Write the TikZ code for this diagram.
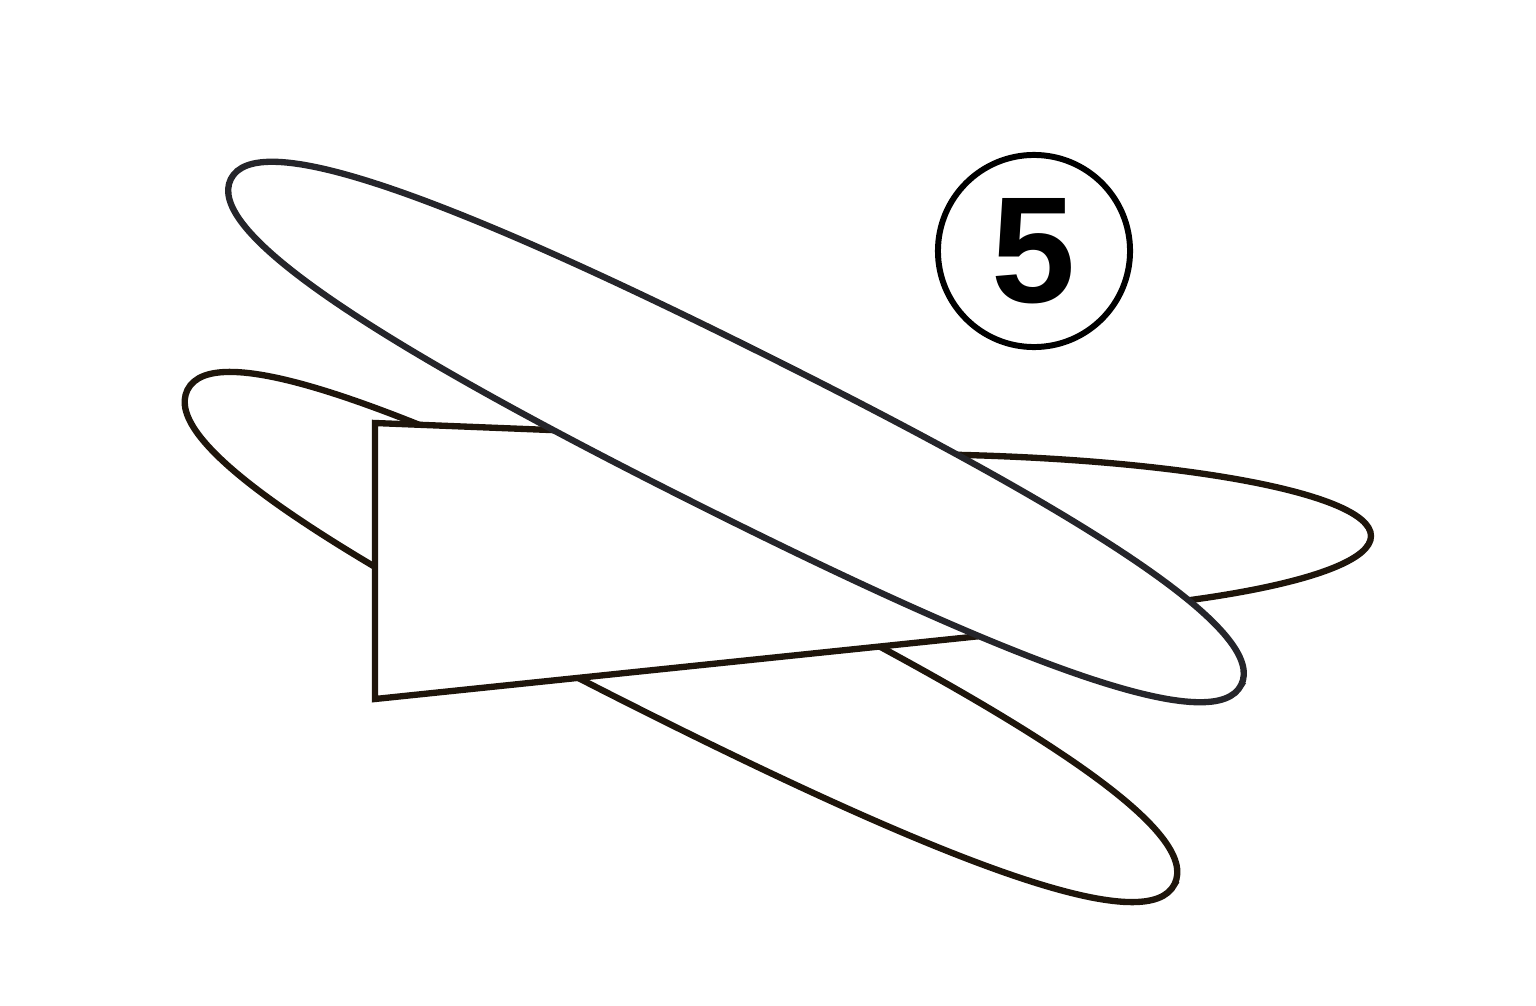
\documentclass[tikz,border=0pt]{standalone}
\usepackage{fontspec}
\setmainfont{Liberation Sans}
\definecolor{backline}{HTML}{1E150B}
\definecolor{topline}{HTML}{25252A}
\tikzset{
  % #1 half length, #2 half width, #3 roundness of the ends
  pics/lobe/.style n args={3}{code={
    \draw[fill=white] (#1,0) .. controls (#1,{#3*#2}) and ({#3*#1},#2) .. (0,#2)
      .. controls ({-#3*#1},#2) and (-#1,{#3*#2}) .. (-#1,0)
      .. controls (-#1,{-#3*#2}) and ({-#3*#1},-#2) .. (0,-#2)
      .. controls ({#3*#1},-#2) and (#1,{-#3*#2}) .. cycle;
  }}
}
\begin{document}
\begin{tikzpicture}[x=0.01cm,y=-0.01cm,line width=1.8pt]
  \useasboundingbox (0,0) rectangle (1536,1006);
  % wings at the back
  \pic[backline, shift={(890,536)}] {lobe={481}{82}{0.552}};
  \pic[backline, shift={(681,637)}, rotate=-26.6] {lobe={552}{83}{0.68}};
  % body
  \coordinate (tl) at (375,423);
  \coordinate (tr) at (650,434);
  \coordinate (br) at (1000,634);
  \coordinate (bl) at (375,699);
  \draw[backline, fill=white] (tl) -- (tr) -- (br) -- (bl) -- cycle;
  % upper wing
  \pic[topline, shift={(736,432)}, rotate=-26.6] {lobe={565}{82}{0.68}};
  \node[circle, draw, line width=1.7pt, minimum size=1.92cm, inner sep=0pt,
        font=\fontsize{43}{43}\selectfont\bfseries] (five) at (1034,251) {5};
\end{tikzpicture}
\end{document}
